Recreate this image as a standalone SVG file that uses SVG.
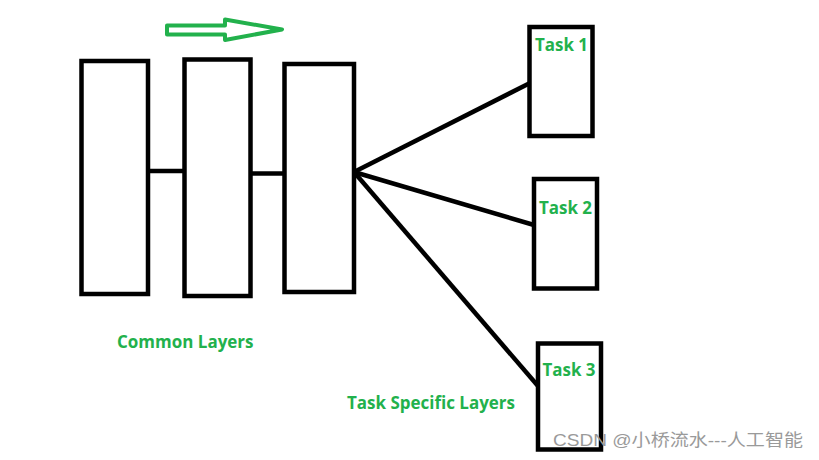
<svg xmlns="http://www.w3.org/2000/svg" width="819" height="460" viewBox="0 0 819 460">
<style>
.box{fill:#fff;stroke:#000;stroke-width:4.5}
.conn{stroke:#000;stroke-width:4.5;fill:none;stroke-linecap:butt}
.lbl{fill:#22b14c;font-family:"Open Sans","Liberation Sans",sans-serif;font-weight:bold;font-size:17px}
.wm{fill:#9a9a9a;font-family:"Liberation Sans","Noto Sans CJK SC",sans-serif;font-size:17px}
</style>
<rect width="819" height="460" fill="#fff"/>
<g id="connectors">
<line class="conn" x1="148" y1="171" x2="184" y2="171"/>
<line class="conn" x1="251" y1="173.5" x2="284" y2="173.5"/>
<line class="conn" x1="354" y1="172" x2="530" y2="83"/>
<line class="conn" x1="354" y1="172" x2="534" y2="225"/>
<line class="conn" x1="354" y1="172" x2="538" y2="386"/>
</g>
<g id="flow-arrow">
<polygon points="167,25.5 225,25.5 225,19.5 282,29.5 225,40 225,34.5 167,34.5" fill="none" stroke="#22b14c" stroke-width="4" stroke-linejoin="round"/>
</g>
<g id="common1"><rect class="box" x="81.5" y="61" width="66.5" height="233"/></g>
<g id="common2"><rect class="box" x="184.5" y="59.5" width="66" height="236.5"/></g>
<g id="common3"><rect class="box" x="284.5" y="64" width="69.5" height="228"/></g>
<g id="task1"><rect class="box" x="529.5" y="27" width="63" height="109"/>
<text class="lbl" x="535" y="51" textLength="53" lengthAdjust="spacingAndGlyphs">Task 1</text></g>
<g id="task2"><rect class="box" x="534" y="179" width="63" height="109.5"/>
<text class="lbl" x="539" y="214" textLength="53" lengthAdjust="spacingAndGlyphs">Task 2</text></g>
<g id="task3"><rect class="box" x="538" y="343.5" width="63" height="106"/>
<text class="lbl" x="542.5" y="376" textLength="53" lengthAdjust="spacingAndGlyphs">Task 3</text></g>
<g id="common-label"><text class="lbl" x="117" y="347.5" textLength="136.5" lengthAdjust="spacingAndGlyphs">Common Layers</text></g>
<g id="task-label"><text class="lbl" x="347" y="408.5" textLength="168" lengthAdjust="spacingAndGlyphs">Task Specific Layers</text></g>
<text class="wm" x="553" y="446" textLength="250" lengthAdjust="spacingAndGlyphs">CSDN @小桥流水---人工智能</text>
</svg>
